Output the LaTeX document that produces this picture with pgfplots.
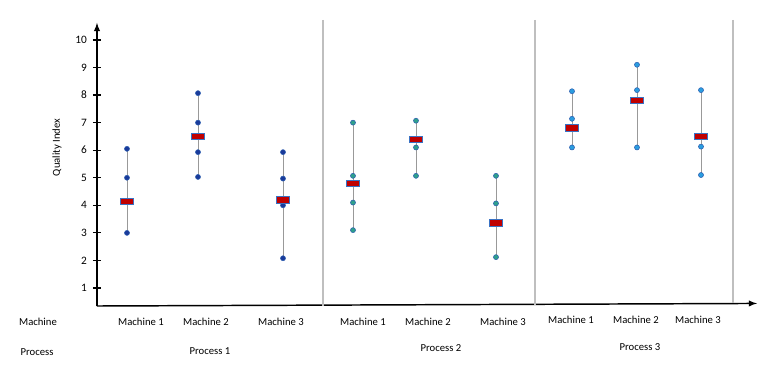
\documentclass[border=0pt]{standalone}
\usepackage{pgfplots}
\pgfplotsset{compat=1.18}
\usepackage{fontspec}
\setmainfont{Carlito}
\definecolor{pone}{HTML}{1A3A9A}
\definecolor{ptwo}{HTML}{2FA08C}
\definecolor{pthree}{HTML}{2A9DE0}
\definecolor{bord}{HTML}{2E5FB0}
\definecolor{meanred}{HTML}{C00000}
\definecolor{meanbord}{HTML}{3A72C4}
\pgfdeclareplotmark{meanbox}{%
  \pgfpathrectangle{\pgfpoint{-4.6pt}{-2.4pt}}{\pgfpoint{9.2pt}{4.8pt}}%
  \pgfusepathqfillstroke}
\begin{document}
\begin{tikzpicture}
\begin{axis}[
  scale only axis,
  width=503.25pt, height=229.5pt,
  xmin=97, xmax=768,
  ymin=0.347, ymax=11.45,
  axis lines=left,
  axis line style={draw=none},
  xtick=\empty,
  ytick={1,2,3,4,5,6,7,8,9,10},
  tick align=center,
  major tick length=6pt,
  tick style={black, line width=0.9pt},
  yticklabel style={font=\fontsize{8.5}{10}\selectfont, xshift=-1pt},
  /pgf/number format/assume math mode=true,
  clip=false,
]
% bounding box
\path (axis cs:0,-1.90) rectangle (axis cs:768,11.45);
% axes
\draw[line width=1.1pt, -latex] (axis cs:97,0.347) -- (axis cs:97,10.62);
\draw[line width=1.1pt, -latex] (axis cs:97,0.347) -- (axis cs:757,0.44);
% separators
\draw[gray!50, line width=0.8pt] (axis cs:323,10.73) -- (axis cs:323,0.36);
\draw[gray!50, line width=0.8pt] (axis cs:535,10.73) -- (axis cs:535,0.39);
\draw[gray!50, line width=0.8pt] (axis cs:733,10.73) -- (axis cs:733,0.44);
% range lines
\addplot[gray!80, line width=0.7pt] coordinates {(127,3.0) (127,6.05)};
\addplot[gray!80, line width=0.7pt] coordinates {(198,5.03) (198,8.07)};
\addplot[gray!80, line width=0.7pt] coordinates {(283,2.08) (283,5.93)};
\addplot[gray!80, line width=0.7pt] coordinates {(353,3.1) (353,7.0)};
\addplot[gray!80, line width=0.7pt] coordinates {(416,5.07) (416,7.07)};
\addplot[gray!80, line width=0.7pt] coordinates {(496,2.12) (496,5.07)};
\addplot[gray!80, line width=0.7pt] coordinates {(572,6.1) (572,8.14)};
\addplot[gray!80, line width=0.7pt] coordinates {(637,6.1) (637,9.1)};
\addplot[gray!80, line width=0.7pt] coordinates {(701,5.1) (701,8.18)};
% points
\addplot[only marks, mark=*, mark size=1.9pt, mark options={fill=pone, draw=bord, line width=0.4pt}] coordinates {
(127,6.05) (127,5.0) (127,3.0)
(198,8.07) (198,7.0) (198,5.93) (198,5.03)
(283,5.93) (283,4.97) (283,4.0) (283,2.08)
};
\addplot[only marks, mark=*, mark size=1.9pt, mark options={fill=ptwo, draw=bord, line width=0.4pt}] coordinates {
(353,7.0) (353,5.07) (353,4.1) (353,3.1)
(416,7.07) (416,6.1) (416,5.07)
(496,5.07) (496,4.07) (496,2.12)
};
\addplot[only marks, mark=*, mark size=1.9pt, mark options={fill=pthree, draw=bord, line width=0.4pt}] coordinates {
(572,8.14) (572,7.14) (572,6.1)
(637,9.1) (637,8.18) (637,6.1)
(701,8.18) (701,6.13) (701,5.1)
};
% means
\addplot[only marks, mark=meanbox, mark options={fill=meanred, draw=meanbord, line width=0.7pt}] coordinates {
(127,4.14) (198,6.5) (283,4.2)
(353,4.8) (416,6.4) (496,3.36)
(572,6.8) (637,7.8) (701,6.5)
};
% labels
\node[rotate=90, font=\fontsize{8}{10}\selectfont] at (axis cs:57,6.1) {Quality Index};
\begin{scope}[every node/.style={font=\fontsize{8}{10}\selectfont}]
\node at (axis cs:38,-0.23) {Machine};
\node at (axis cs:37,-1.32) {Process};
\node at (axis cs:141,-0.23) {Machine 1};
\node at (axis cs:206,-0.23) {Machine 2};
\node at (axis cs:281,-0.23) {Machine 3};
\node at (axis cs:363,-0.23) {Machine 1};
\node at (axis cs:428,-0.23) {Machine 2};
\node at (axis cs:503,-0.23) {Machine 3};
\node at (axis cs:571,-0.16) {Machine 1};
\node at (axis cs:636,-0.16) {Machine 2};
\node at (axis cs:698,-0.16) {Machine 3};
\node at (axis cs:210,-1.28) {Process 1};
\node at (axis cs:441,-1.18) {Process 2};
\node at (axis cs:640,-1.14) {Process 3};
\end{scope}
\end{axis}
\end{tikzpicture}
\end{document}
